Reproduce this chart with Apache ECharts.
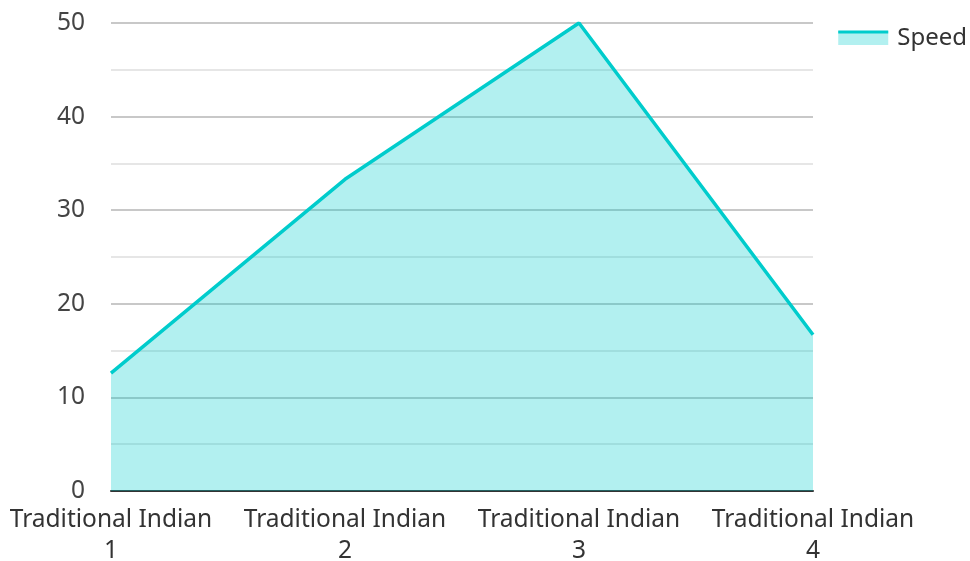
<!DOCTYPE html>
<html>
<head>
<meta charset="utf-8">
<script src="https://cdn.jsdelivr.net/npm/echarts@6/dist/echarts.min.js"></script>
<style>
  html, body { margin: 0; padding: 0; background: #fff; }
  #chart { width: 970px; height: 561px; }
</style>
</head>
<body>
<div id="chart"></div>
<script>
const categories = ['Traditional Indian 1', 'Traditional Indian 2', 'Traditional Indian 3', 'Traditional Indian 4'];
const speed = [12.6, 33.3, 50, 16.7];
const seriesName = 'Speed';

const lineColor = '#00cccc';
const fontFamily = '"Noto Sans", "Open Sans", sans-serif';
const fontSize = 24.5;

const myChart = echarts.init(document.getElementById('chart'));
const option = {
  animation: false,
  grid: {
    left: 111,
    right: 157,
    top: 23,
    bottom: 70,
    containLabel: false,
    outerBoundsMode: 'none',
  },
  legend: [
    {
      data: [seriesName],
      right: -2,
      top: 21,
      icon: 'rect',
      itemWidth: 50,
      itemHeight: 14,
      itemStyle: { color: 'rgba(0,204,204,0.3)' },
      textStyle: { fontSize: 24, color: '#333', fontFamily: fontFamily, padding: [0, 0, 0, 4] },
    },
    {
      data: [seriesName],
      right: -2,
      top: 15,
      itemWidth: 50,
      itemHeight: 3,
      itemStyle: { opacity: 0 },
      lineStyle: { width: 3, color: lineColor },
      textStyle: { fontSize: 24, color: 'transparent', fontFamily: fontFamily, padding: [0, 0, 0, 4] },
      selectedMode: false,
    },
  ],
  xAxis: {
    type: 'category',
    data: categories,
    boundaryGap: false,
    axisTick: { show: false },
    axisLine: { lineStyle: { color: '#333', width: 2 } },
    axisLabel: {
      interval: 0,
      fontSize: fontSize,
      color: '#333',
      fontFamily: fontFamily,
      lineHeight: 31,
      margin: 14,
      formatter: (v) => v.replace(/ (\S+)$/, '\n$1'),
    },
  },
  yAxis: {
    type: 'value',
    min: 0,
    max: 50,
    interval: 10,
    axisLine: { show: false },
    axisTick: { show: false },
    axisLabel: {
      fontSize: fontSize,
      color: '#444',
      fontFamily: fontFamily,
      margin: 26,
    },
    splitLine: { lineStyle: { color: '#c8c8c8', width: 2 } },
    minorTick: { show: false, splitNumber: 2 },
    minorSplitLine: { show: true, lineStyle: { color: '#e6e6e6', width: 2 } },
  },
  series: [
    {
      name: seriesName,
      type: 'line',
      data: speed,
      symbol: 'none',
      lineStyle: { color: lineColor, width: 3.5 },
      itemStyle: { color: lineColor },
      areaStyle: { color: lineColor, opacity: 0.3 },
    },
  ],
};
myChart.setOption(option);
window.addEventListener('resize', () => {
  myChart.resize();
});
</script>
</body>
</html>
